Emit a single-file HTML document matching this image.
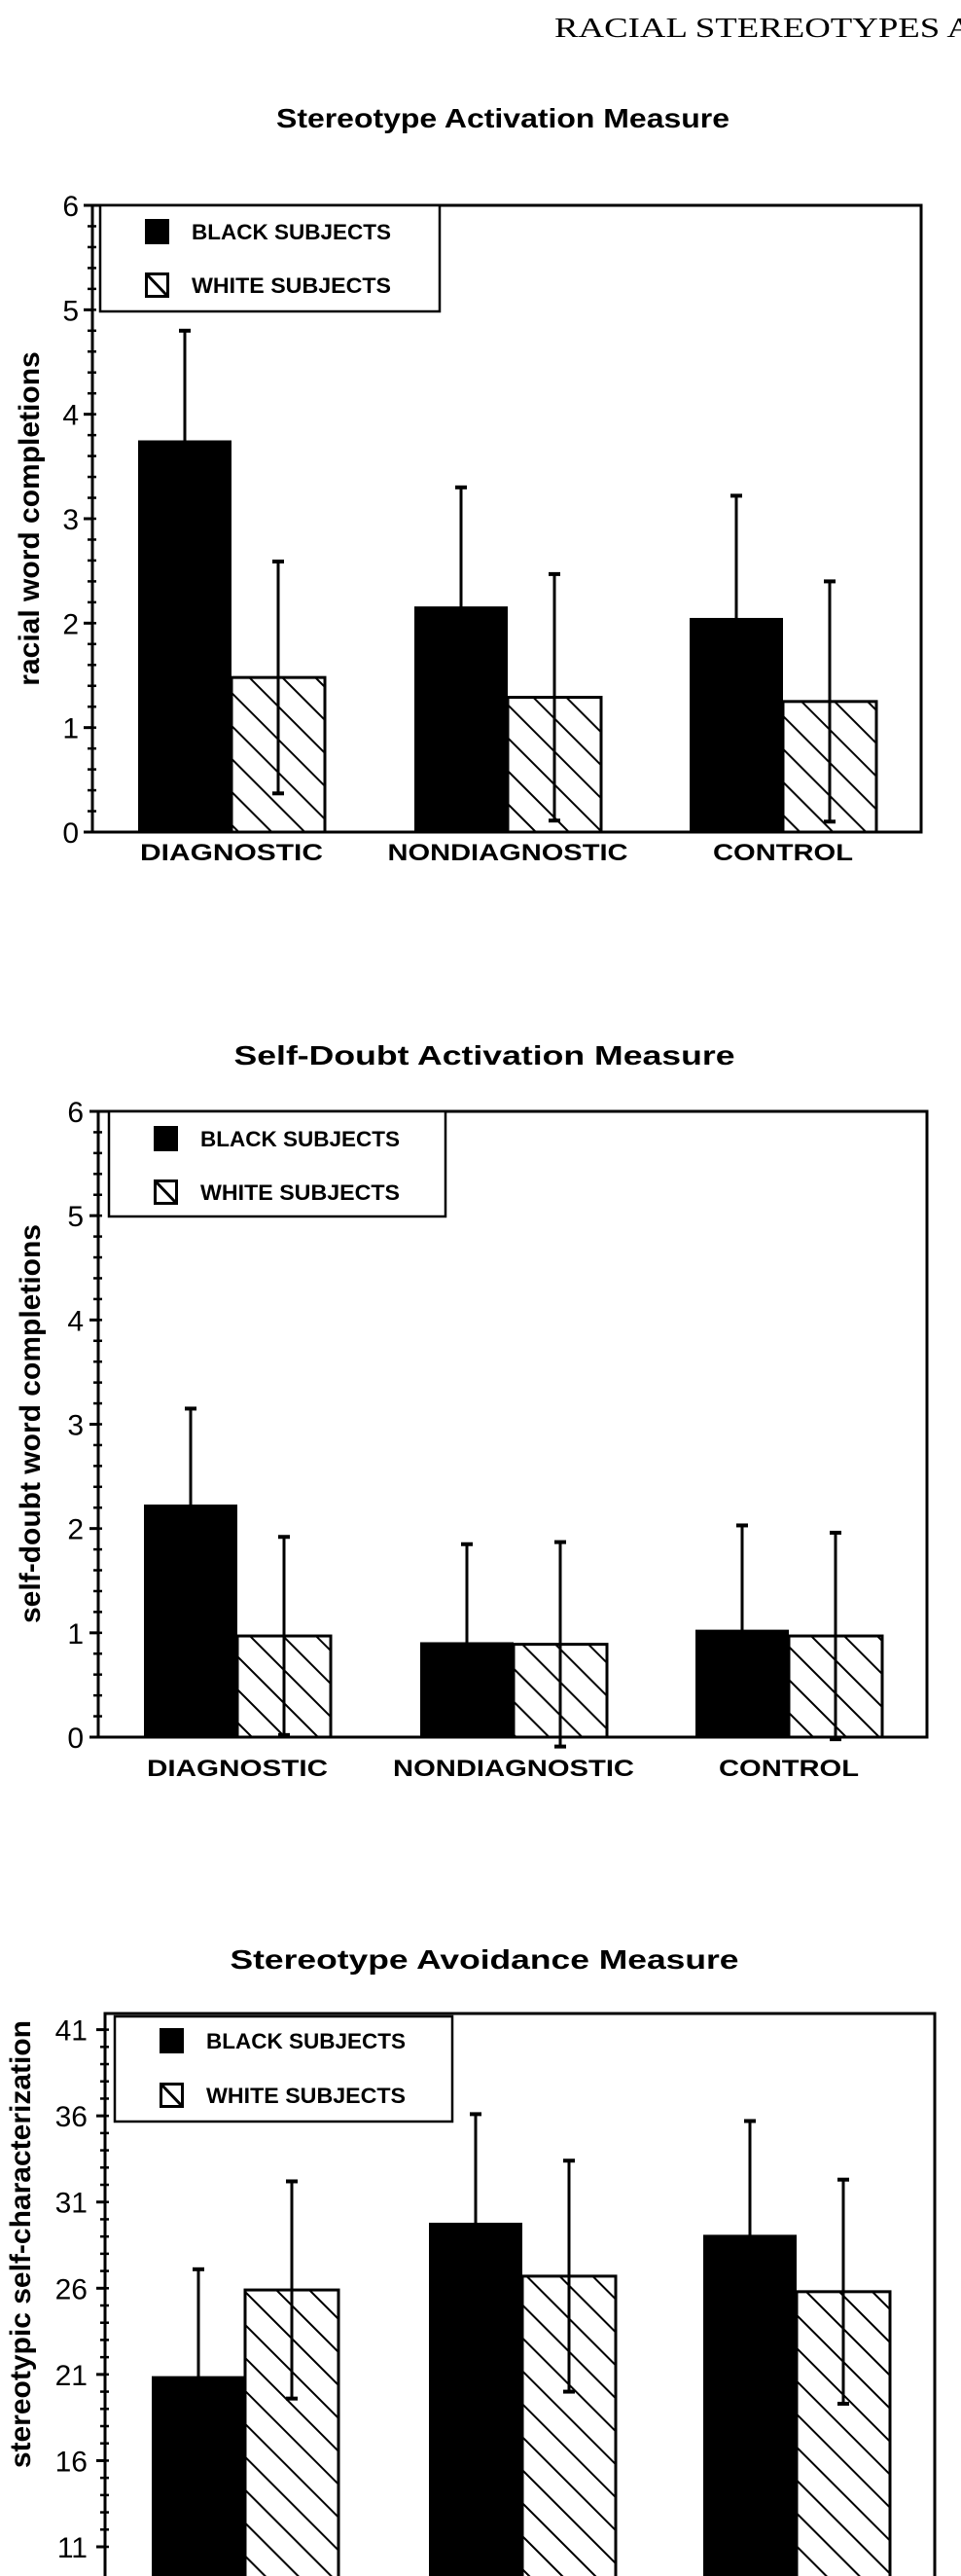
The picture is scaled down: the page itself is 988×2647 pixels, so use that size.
<!DOCTYPE html>
<html><head><meta charset="utf-8">
<style>
html,body{margin:0;padding:0;background:#fff;}
svg{display:block;}
text{font-family:"Liberation Sans",Arial,sans-serif;fill:#000;}
</style></head>
<body>
<svg id="fig" width="988" height="2647" viewBox="0 0 988 2647" xmlns="http://www.w3.org/2000/svg">
<defs>
<pattern id="hatch" patternUnits="userSpaceOnUse" width="24" height="24" patternTransform="rotate(-45)">
<rect width="24" height="24" fill="#fff"/>
<line x1="0" y1="0" x2="0" y2="24" stroke="#000" stroke-width="4"/>
</pattern>
</defs>
<text x="570" y="38" style="font-family:'Liberation Serif',serif;font-size:28px" textLength="430" lengthAdjust="spacingAndGlyphs">RACIAL STEREOTYPES A</text>
<g id="charts"></g>
</svg>
<script>
// Chart 1: Stereotype Activation Measure
const categories = ["DIAGNOSTIC", "NONDIAGNOSTIC", "CONTROL"];
const c1Black = [3.75, 2.16, 2.05];
const c1BlackErr = [1.05, 1.14, 1.17];
const c1White = [1.48, 1.29, 1.25];
const c1WhiteErr = [1.11, 1.18, 1.15];
const c1Ticks = [0, 1, 2, 3, 4, 5, 6];
// Chart 2: Self-Doubt Activation Measure
const c2Black = [2.23, 0.91, 1.03];
const c2BlackErr = [0.92, 0.94, 1.0];
const c2White = [0.97, 0.89, 0.97];
const c2WhiteErr = [0.95, 0.98, 0.99];
const c2Ticks = [0, 1, 2, 3, 4, 5, 6];
// Chart 3: Stereotype Avoidance Measure
const c3Black = [20.9, 29.8, 29.1];
const c3BlackErr = [6.2, 6.3, 6.6];
const c3White = [25.9, 26.7, 25.8];
const c3WhiteErr = [6.3, 6.7, 6.5];
const c3Ticks = [11, 16, 21, 26, 31, 36, 41];

const NS = "http://www.w3.org/2000/svg";
const root = document.getElementById("charts");
function mk(tag, attrs, parent) {
  const e = document.createElementNS(NS, tag);
  for (const k in attrs) e.setAttribute(k, attrs[k]);
  (parent || root).appendChild(e);
  return e;
}

function drawChart(cfg, black, blackErr, white, whiteErr, ticks) {
  const g = mk("g", {});
  
  
  const y = v => cfg.y0 + (v - cfg.v0) * (cfg.y1 - cfg.y0) / (cfg.v1 - cfg.v0);
  const t = mk("text", {x: cfg.titleX, y: cfg.titleY, "text-anchor": "middle", "font-size": 28, "font-weight": "bold", textLength: cfg.titleLen, lengthAdjust: "spacingAndGlyphs"}, g);
  t.textContent = cfg.title;
  
  
  for (let i = 0; i < categories.length; i++) {
    const c = cfg.centers[i];
    const bw = cfg.bw;
    const yb = y(black[i]);
    const rb = mk("rect", {x: c - bw, y: yb, width: bw, height: cfg.base - yb, fill: "#000"}, g);
    
    
    const ebT = y(black[i] + blackErr[i]);
    const eb = mk("line", {x1: c - bw / 2, x2: c - bw / 2, y1: ebT, y2: yb + 2, stroke: "#000", "stroke-width": 3}, g);
    
    
    mk("line", {x1: c - bw / 2 - 6, x2: c - bw / 2 + 6, y1: ebT, y2: ebT, stroke: "#000", "stroke-width": 4}, g);
    const yw = y(white[i]);
    const rw = mk("rect", {x: c, y: yw, width: bw, height: cfg.base - yw, fill: "url(#hatch)", stroke: "#000", "stroke-width": 3}, g);
    
    
    const ewT = y(white[i] + whiteErr[i]);
    const ewB = y(white[i] - whiteErr[i]);
    const ew = mk("line", {x1: c + bw / 2, x2: c + bw / 2, y1: ewT, y2: ewB, stroke: "#000", "stroke-width": 3}, g);
    
    
    mk("line", {x1: c + bw / 2 - 6, x2: c + bw / 2 + 6, y1: ewT, y2: ewT, stroke: "#000", "stroke-width": 4}, g);
    mk("line", {x1: c + bw / 2 - 6, x2: c + bw / 2 + 6, y1: ewB, y2: ewB, stroke: "#000", "stroke-width": 4}, g);
    if (cfg.catY) {
      const ct = mk("text", {x: c, y: cfg.catY, "text-anchor": "middle", "font-size": 24, "font-weight": "bold", textLength: cfg.catLen[i], lengthAdjust: "spacingAndGlyphs"}, g);
      ct.textContent = categories[i];
      
      
    }
  }
  const fr = mk("rect", {x: cfg.left, y: cfg.top, width: cfg.right - cfg.left, height: cfg.base - cfg.top, fill: "none", stroke: "#000", "stroke-width": 3}, g);
  
  
  const tMin = ticks[0], tMax = ticks[ticks.length - 1];
  for (let v = tMin; v <= tMax + 1e-6; v += cfg.minor) {
    mk("line", {x1: cfg.left - 5, x2: cfg.left + 4, y1: y(v), y2: y(v), stroke: "#000", "stroke-width": 2.5}, g);
  }
  ticks.forEach(v => {
    mk("line", {x1: cfg.left - 9, x2: cfg.left, y1: y(v), y2: y(v), stroke: "#000", "stroke-width": 3}, g);
    const tl = mk("text", {x: cfg.labelX, y: y(v) + 11, "text-anchor": "end", "font-size": 30}, g);
    tl.textContent = v;
    
    
  });
  const yt = mk("text", {x: 0, y: 0, "text-anchor": cfg.yAnchor, "font-size": 30, "font-weight": "bold", transform: "translate(" + cfg.yTitleX + "," + cfg.yTitleY + ") rotate(-90)"}, g);
  yt.textContent = cfg.yTitle;
  
  
  const lg = mk("g", {}, g);
  
  
  mk("rect", {x: cfg.leg[0], y: cfg.leg[1], width: cfg.leg[2], height: cfg.leg[3], fill: "#fff", stroke: "#000", "stroke-width": 2.5}, lg);
  const sx = cfg.leg[0] + 46;
  mk("rect", {x: sx, y: cfg.legY[0] - 13, width: 25, height: 26, fill: "#000"}, lg);
  mk("rect", {x: sx + 1.5, y: cfg.legY[1] - 11.5, width: 22, height: 23, fill: "#fff", stroke: "#000", "stroke-width": 3}, lg);
  mk("line", {x1: sx + 2, y1: cfg.legY[1] - 11, x2: sx + 23, y2: cfg.legY[1] + 11, stroke: "#000", "stroke-width": 3}, lg);
  ["BLACK SUBJECTS", "WHITE SUBJECTS"].forEach((s, k) => {
    const lt = mk("text", {x: sx + 48, y: cfg.legY[k] + 8, "font-size": 22, "font-weight": "bold", textLength: 205, lengthAdjust: "spacingAndGlyphs"}, lg);
    lt.textContent = s;
    
    
  });
}

drawChart({name: "stereotype-activation-chart", title: "Stereotype Activation Measure", titleX: 517, titleY: 131, titleLen: 466,
  left: 95, right: 947, top: 211, base: 855, v0: 0, y0: 855, v1: 6, y1: 211, minor: 0.2,
  centers: [238, 522, 805], bw: 96, catY: 884, catLen: [188, 247, 144], labelX: 81,
  yTitle: "racial word completions", yTitleX: 40, yTitleY: 533, yAnchor: "middle",
  leg: [103, 211, 349, 109], legY: [238, 293]}, c1Black, c1BlackErr, c1White, c1WhiteErr, c1Ticks);

drawChart({name: "self-doubt-activation-chart", title: "Self-Doubt Activation Measure", titleX: 498, titleY: 1094, titleLen: 515,
  left: 101, right: 953, top: 1142, base: 1785, v0: 0, y0: 1785, v1: 6, y1: 1142, minor: 0.2,
  centers: [244, 528, 811], bw: 96, catY: 1825, catLen: [186, 248, 144], labelX: 86,
  yTitle: "self-doubt word completions", yTitleX: 41, yTitleY: 1463, yAnchor: "middle",
  leg: [112, 1142, 346, 108], legY: [1170, 1225]}, c2Black, c2BlackErr, c2White, c2WhiteErr, c2Ticks);

drawChart({name: "stereotype-avoidance-chart", title: "Stereotype Avoidance Measure", titleX: 498, titleY: 2023, titleLen: 523,
  left: 108, right: 961, top: 2069, base: 2700, v0: 41, y0: 2085.6, v1: 11, y1: 2617, minor: 1,
  centers: [252, 537, 819], bw: 96, catY: null, catLen: [], labelX: 90,
  yTitle: "stereotypic self-characterization", yTitleX: 31, yTitleY: 2076, yAnchor: "end",
  leg: [118, 2072, 347, 108], legY: [2097, 2153]}, c3Black, c3BlackErr, c3White, c3WhiteErr, c3Ticks);
</script>
</body></html>
